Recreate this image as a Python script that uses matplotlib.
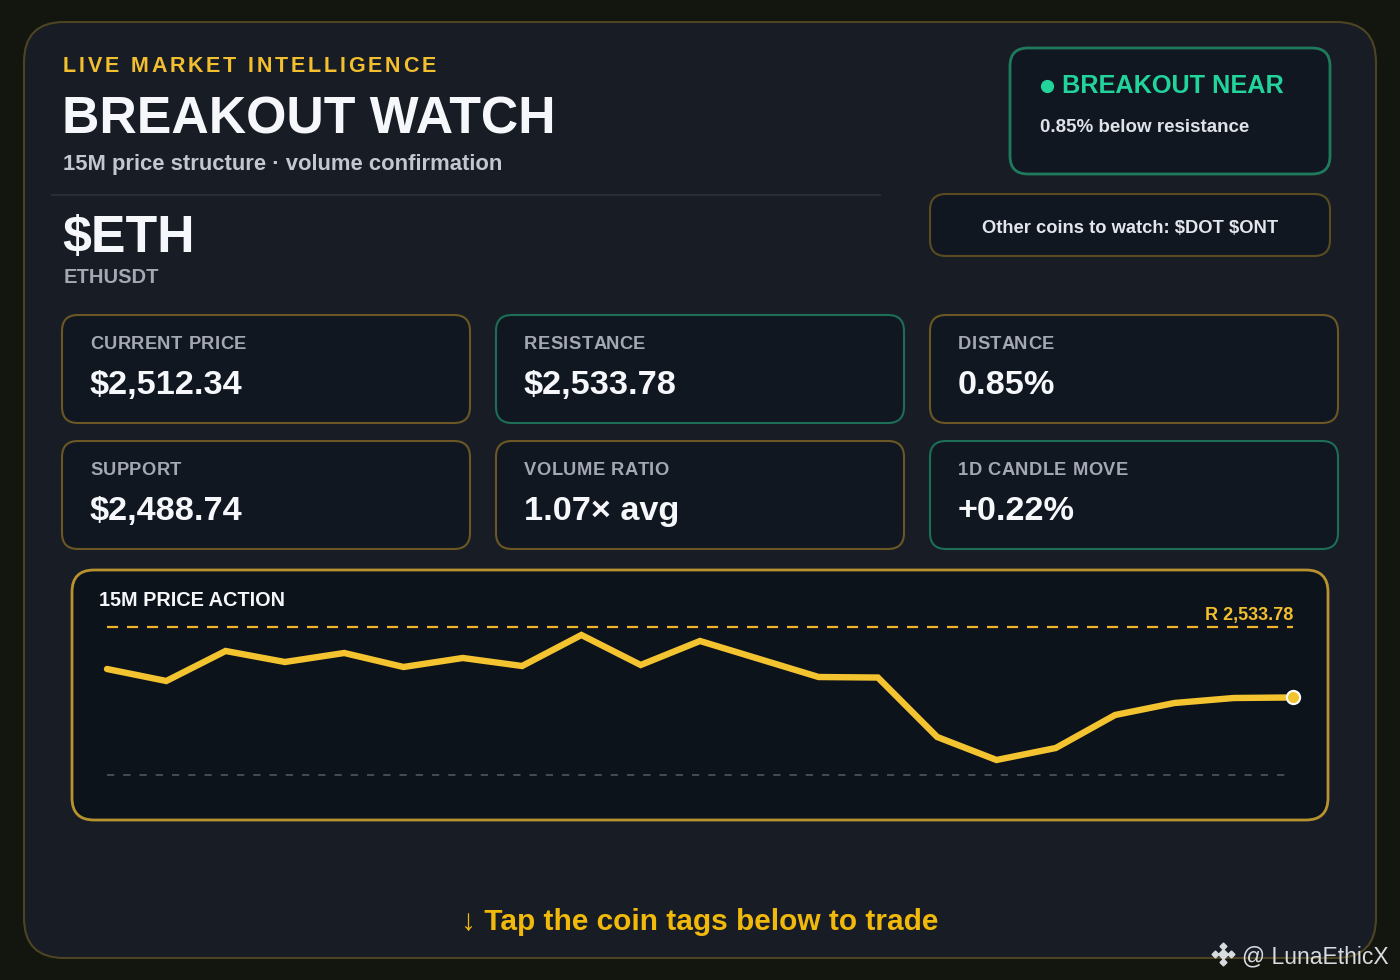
import matplotlib
matplotlib.use('Agg')
import matplotlib.pyplot as plt
from matplotlib.patches import FancyBboxPatch

plt.rcParams['font.family'] = ['Liberation Sans', 'DejaVu Sans']
plt.rcParams['text.parse_math'] = False

# data
coin = '$ETH'
pair = 'ETHUSDT'
resistance = 2533.78
support = 2488.74
prices = [2521.00, 2517.35, 2526.48, 2523.13, 2525.87, 2521.61, 2524.35,
          2521.91, 2531.35, 2522.22, 2529.52, 2524.04, 2518.56, 2518.40,
          2500.31, 2493.31, 2496.96, 2507.00, 2510.65, 2512.17, 2512.34]
card_labels = ['CURRENT PRICE', 'RESISTANCE', 'DISTANCE',
               'SUPPORT', 'VOLUME RATIO', '1D CANDLE MOVE']
card_values = ['$2,512.34', '$2,533.78', '0.85%',
               '$2,488.74', '1.07\u00d7 avg', '+0.22%']
card_green = [False, True, False, False, False, True]
watch_coins = ['$DOT', '$ONT']

# colours
BG = '#13150f'
CARD = '#181c25'
BOX = '#111720'
GOLD_EDGE = '#6a5724'
GREEN_EDGE = '#1c6e56'
YELLOW = '#f3bf2f'
GREEN = '#22d39b'
WHITE = '#f5f7fa'
GREY = '#a3a8b4'

W, H = 1400, 980
fig = plt.figure(figsize=(W / 100, H / 100), dpi=100, facecolor=BG)
bg = fig.add_axes([0, 0, 1, 1])
bg.set_xlim(0, W)
bg.set_ylim(H, 0)
bg.axis('off')


def box(x0, y0, x1, y1, r, fc, ec, lw=1.5, z=1):
    p = FancyBboxPatch((x0, y0), x1 - x0, y1 - y0,
                       boxstyle='round,pad=0,rounding_size=%d' % r,
                       fc=fc, ec=ec, lw=lw, zorder=z)
    bg.add_patch(p)


def tracked(x, y, s, spacing, **kw):
    # text with letter spacing, placed char by char
    r = fig.canvas.get_renderer()
    for i, ch in enumerate(s):
        if ch == ' ':
            continue
        off = 0
        if i > 0:
            t = bg.text(0, 0, s[:i], **kw)
            off = t.get_window_extent(renderer=r).width
            t.remove()
        bg.text(x + off + i * spacing, y, ch, ha='left', va='baseline', **kw)


# main card
box(24, 22, 1376, 958, 40, CARD, '#4d4423', lw=1.5)

# header
tracked(63, 72, 'LIVE MARKET INTELLIGENCE', 2.8, fontsize=15.5,
        color=YELLOW, fontweight='bold', zorder=5)
bg.text(62, 133, 'BREAKOUT WATCH', fontsize=37.3, color=WHITE,
        fontweight='bold', va='baseline', zorder=5)
bg.text(63, 170, '15M price structure \u00b7 volume confirmation',
        fontsize=15.8, color='#c3c7d0', fontweight='bold', va='baseline', zorder=5)
bg.plot([52, 880], [195, 195], color='#2c313b', lw=1.2, zorder=2)
bg.text(62, 252, coin, fontsize=37.3, color=WHITE, fontweight='bold',
        va='baseline', zorder=5)
bg.text(64, 283, pair, fontsize=14.5, color=GREY, fontweight='bold',
        va='baseline', zorder=5)

# status box
box(1010, 48, 1330, 174, 18, BOX, '#1f7a5c', lw=2)
bg.plot(1047, 86, 'o', ms=8.5, color=GREEN, zorder=5)
bg.text(1062, 93, 'BREAKOUT NEAR', fontsize=18.2, color=GREEN,
        fontweight='bold', va='baseline', zorder=5)
bg.text(1040, 132, '0.85% below resistance', fontsize=13.5, color='#dfe2e8',
        fontweight='bold', va='baseline', zorder=5)

box(930, 194, 1330, 256, 16, BOX, '#5a4c22', lw=1.5)
bg.text(1130, 233, 'Other coins to watch: ' + ' '.join(watch_coins),
        fontsize=13.2, color='#e3e6ec', fontweight='bold', ha='center',
        va='baseline', zorder=5)

# stat cards
col_x = [62, 496, 930]
row_y = [315, 441]
for i, (lab, val) in enumerate(zip(card_labels, card_values)):
    x0 = col_x[i % 3]
    y0 = row_y[i // 3]
    ec = GREEN_EDGE if card_green[i] else GOLD_EDGE
    box(x0, y0, x0 + 408, y0 + 108, 16, BOX, ec, lw=1.5)
    tracked(x0 + 28, y0 + 34, lab, 0.4, fontsize=13.2, color=GREY,
            fontweight='bold', zorder=5)
    bg.text(x0 + 28, y0 + 79, val, fontsize=24.7, color=WHITE,
            fontweight='bold', va='baseline', zorder=5)

# chart panel
box(72, 570, 1328, 820, 22, '#0d131b', '#b8922e', lw=2)
bg.text(99, 606, '15M PRICE ACTION', fontsize=14.3, color=WHITE,
        fontweight='bold', va='baseline', zorder=5)
bg.text(1293, 620, 'R {:,.2f}'.format(resistance), fontsize=13, color=YELLOW,
        fontweight='bold', ha='right', va='baseline', zorder=5)

# price axes, resistance at pixel 627 and support at pixel 775
ax_top, ax_bot = 600, 800
res_px, sup_px = 627, 775
per_px = (resistance - support) / (sup_px - res_px)
ylim_top = resistance + (res_px - ax_top) * per_px
ylim_bot = support - (ax_bot - sup_px) * per_px
ax = fig.add_axes([107 / W, 1 - ax_bot / H, (1293 - 107) / W, (ax_bot - ax_top) / H])
ax.set_facecolor('none')
ax.axis('off')
n = len(prices)
ax.set_xlim(0, n - 1)
ax.set_ylim(ylim_bot, ylim_top)
ax.plot([0, n - 1], [resistance, resistance], color='#f0b429', lw=1.6,
        dashes=(5, 4), clip_on=False)
ax.plot([0, n - 1], [support, support], color='#4b515c', lw=1.3,
        dashes=(4, 5), clip_on=False)
ax.plot(range(n), prices, color='#f4c430', lw=4.6, solid_capstyle='round',
        solid_joinstyle='miter', clip_on=False, zorder=3)
ax.plot(n - 1, prices[-1], 'o', ms=9.5, mfc='#f4c430', mec='white', mew=1.5,
        clip_on=False, zorder=4)

# footer
bg.text(700, 930, '\u2193 Tap the coin tags below to trade', fontsize=21.5,
        color='#f0b90b', fontweight='bold', ha='center', va='baseline', zorder=5)

# watermark with small diamond logo
lx, ly = 1223, 954
for dx, dy, s in [(0, 0, 5), (-8, 0, 3.5), (8, 0, 3.5), (0, -8, 3.5), (0, 8, 3.5)]:
    bg.plot(lx + dx, ly + dy, 'D', ms=s, color='#d8dbe0', zorder=6)
bg.text(1242, 963, '@ LunaEthicX', fontsize=16.5, color='#d8dbe0',
        va='baseline', zorder=6)

fig.savefig('out.png', dpi=100, facecolor=BG)
